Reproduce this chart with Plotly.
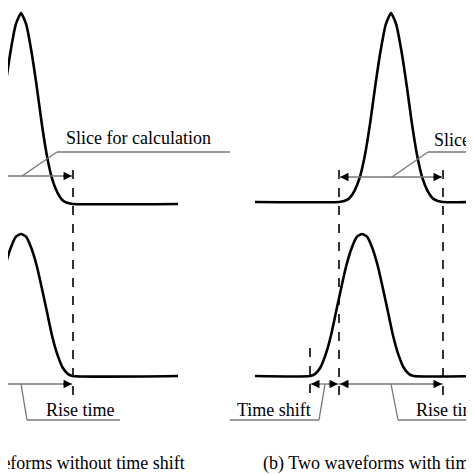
import plotly.graph_objects as go

# normalized pulse profiles (t from 0 to 1 in steps of 0.05)
t_pts = [i / 20 for i in range(21)]
top_half = [0, 0.005, 0.02, 0.06, 0.13, 0.25, 0.42, 0.62, 0.80, 0.94, 1.0]
bot_half = [0, 0.015, 0.06, 0.15, 0.28, 0.45, 0.62, 0.78, 0.90, 0.98, 1.0]
top_profile = top_half + top_half[-2::-1]
bot_profile = bot_half + bot_half[-2::-1]

# waveforms: (baseline start, pulse start, pulse end, baseline end, base y, peak y, profile)
waves = [
    (-40, -31, 73, 178, 204, 13, top_profile),
    (-40, -31, 73, 178, 376, 234, bot_profile),
    (255, 339, 443, 490, 202, 13, top_profile),
    (255, 310, 414, 490, 376, 234, bot_profile),
]
dashes = [(73, 170, 395), (339, 170, 395), (443, 170, 395), (310, 348, 395)]
texts = [
    ("Slice for calculation", 64, 138, "left"),
    ("Slice for calculation", 432, 140, "left"),
    ("Rise time", 44, 410, "left"),
    ("Time shift", 313, 410, "right"),
    ("Rise time", 414, 410, "left"),
    ("(a) Two waveforms without time shift", 187, 463, "right"),
    ("(b) Two waveforms with time shift", 261, 463, "left"),
]

OFF = 8  # browser default body margin

fig = go.Figure()
for x0, p0, p1, x1, yb, yp, prof in waves:
    xs = [x0] + [p0 + t * (p1 - p0) for t in t_pts] + [x1]
    ys = [yb] + [yb - v * (yb - yp) for v in prof] + [yb]
    fig.add_trace(go.Scatter(x=xs, y=ys, mode="lines",
                             line=dict(color="black", width=2.6, shape="spline", smoothing=0.5),
                             hoverinfo="skip"))

shapes = []
for x, y0, y1 in dashes:
    shapes.append(dict(type="line", x0=x, x1=x, y0=y0, y1=y1,
                       line=dict(color="black", width=1.6, dash="dash")))
gray = dict(color="#777777", width=1.3)
for seg in [
    (-5, 176, 72, 176), (22, 176, 57, 152), (57, 152, 230, 152),
    (339, 177, 443, 177), (392, 177, 428, 152), (428, 152, 490, 152),
    (-5, 384, 72, 384), (21, 384, 27, 420), (27, 420, 120, 420),
    (310, 384, 339, 384), (325, 384, 319, 420), (230, 420, 319, 420),
    (339, 384, 443, 384), (391, 384, 398, 420), (398, 420, 490, 420),
]:
    shapes.append(dict(type="line", x0=seg[0], y0=seg[1], x1=seg[2], y1=seg[3], line=gray))

anns = []
for tip, tail, y in [(72, 62, 176), (340, 350, 177), (442, 432, 177), (72, 62, 384),
                     (311, 321, 384), (338, 328, 384), (340, 350, 384), (442, 432, 384)]:
    anns.append(dict(x=tip, y=y, ax=tail, ay=y, xref="x", yref="y", axref="x", ayref="y",
                     showarrow=True, arrowhead=2, arrowsize=1.3, arrowwidth=1.3,
                     arrowcolor="black", text=""))
for s, x, y, anc in texts:
    anns.append(dict(x=x, y=y, xref="x", yref="y", text=s, showarrow=False,
                     xanchor=anc, yanchor="middle",
                     font=dict(family="Liberation Serif", size=18, color="black")))

fig.update_layout(width=474, height=474, margin=dict(l=0, r=0, t=0, b=0),
                  plot_bgcolor="white", paper_bgcolor="white", showlegend=False,
                  shapes=shapes, annotations=anns,
                  xaxis=dict(range=[OFF, 474 + OFF], visible=False),
                  yaxis=dict(range=[474 + OFF, OFF], visible=False))
fig.write_html("out.html")
